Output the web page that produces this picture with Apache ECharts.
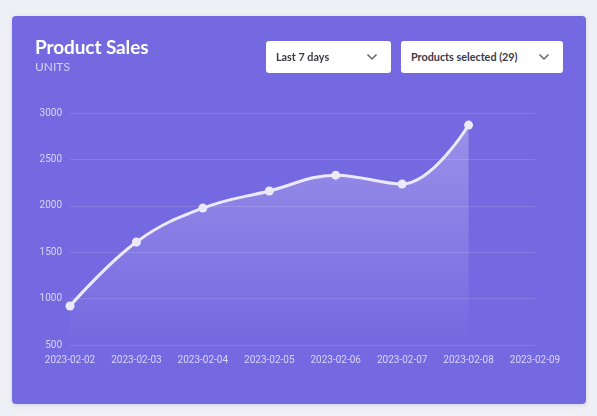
<!DOCTYPE html>
<html>
<head>
<meta charset="utf-8">
<script src="https://cdn.jsdelivr.net/npm/echarts@6/dist/echarts.min.js"></script>
<style>
  html, body { margin: 0; padding: 0; background: #efeff6; width: 597px; height: 416px; overflow: hidden; font-family: Lato, "Noto Sans", sans-serif; }
  .card { position: absolute; left: 12px; top: 16px; width: 574px; height: 388px; background: #7569e1; border-radius: 4px; box-shadow: 0 1px 4px rgba(60,60,100,0.15); }
  .title { position: absolute; left: 35px; top: 35px; color: #fff; font-size: 19px; font-weight: 700; letter-spacing: -0.1px; }
  .sub { position: absolute; left: 35px; top: 59px; color: #d6d1f7; font-size: 12px; }
  .dd { position: absolute; top: 41px; height: 32px; background: #fff; border-radius: 3px; font-size: 10.8px; font-weight: 700; color: #3a3a46; line-height: 32px; padding-left: 10px; box-sizing: border-box; }
  .dd svg { position: absolute; top: 11px; }
  #chart_main { position: absolute; left: 0; top: 0; width: 597px; height: 416px; }
</style>
</head>
<body>
<div class="card"></div>
<div id="chart_main"></div>
<div class="title">Product Sales</div>
<div class="sub">UNITS</div>
<div class="dd" style="left:266px;width:125px;">Last 7 days
  <svg style="left:100px" width="12" height="10" viewBox="0 0 12 10"><polyline points="1.5,2.5 6,7 10.5,2.5" fill="none" stroke="#666" stroke-width="1.5"/></svg>
</div>
<div class="dd" style="left:401px;width:162px;">Products selected (29)
  <svg style="left:137px" width="12" height="10" viewBox="0 0 12 10"><polyline points="1.5,2.5 6,7 10.5,2.5" fill="none" stroke="#666" stroke-width="1.5"/></svg>
</div>
<script>
// 日期与销量
let days = ['2023-02-02', '2023-02-03', '2023-02-04', '2023-02-05', '2023-02-06', '2023-02-07', '2023-02-08', '2023-02-09'];
let units = [920, 1610, 1975, 2160, 2330, 2235, 2870];
let yTicks = { min: 500, max: 3000, step: 500 };

let myChart = echarts.init(document.getElementById('chart_main'), null, { renderer: 'canvas' });

let option = {
  backgroundColor: 'transparent',
  animation: false,
  grid: {
    left: 70,
    right: 62,
    top: 113,
    bottom: 71
  },
  xAxis: {
    type: 'category',
    data: days,
    boundaryGap: false,
    axisLine: { show: false },
    axisTick: { show: false },
    axisLabel: {
      color: '#d9d5f7',
      fontSize: 10,
      margin: 10,
      interval: 0,
      fontFamily: 'Roboto'
    },
    splitLine: { show: false }
  },
  yAxis: {
    type: 'value',
    min: yTicks.min,
    max: yTicks.max,
    interval: yTicks.step,
    axisLine: { show: false },
    axisTick: { show: false },
    axisLabel: {
      color: '#d9d5f7',
      fontSize: 10,
      margin: 8,
      fontFamily: 'Roboto',
      formatter: function (v) { return String(v); }
    },
    splitLine: {
      lineStyle: { color: 'rgba(255,255,255,0.13)', width: 1 }
    }
  },
  series: [
    {
      name: 'Units',
      type: 'line',
      data: units,
      smooth: 0.4,
      symbol: 'circle',
      symbolSize: 9,
      itemStyle: { color: '#ece9fc' },
      lineStyle: { color: '#ece9fc', width: 3 },
      areaStyle: {
        color: new echarts.graphic.LinearGradient(0, 0, 0, 1, [
          { offset: 0, color: 'rgba(255,255,255,0.38)' },
          { offset: 1, color: 'rgba(255,255,255,0.0)' }
        ])
      }
    }
  ]
};

myChart.setOption(option);
</script>
</body>
</html>
